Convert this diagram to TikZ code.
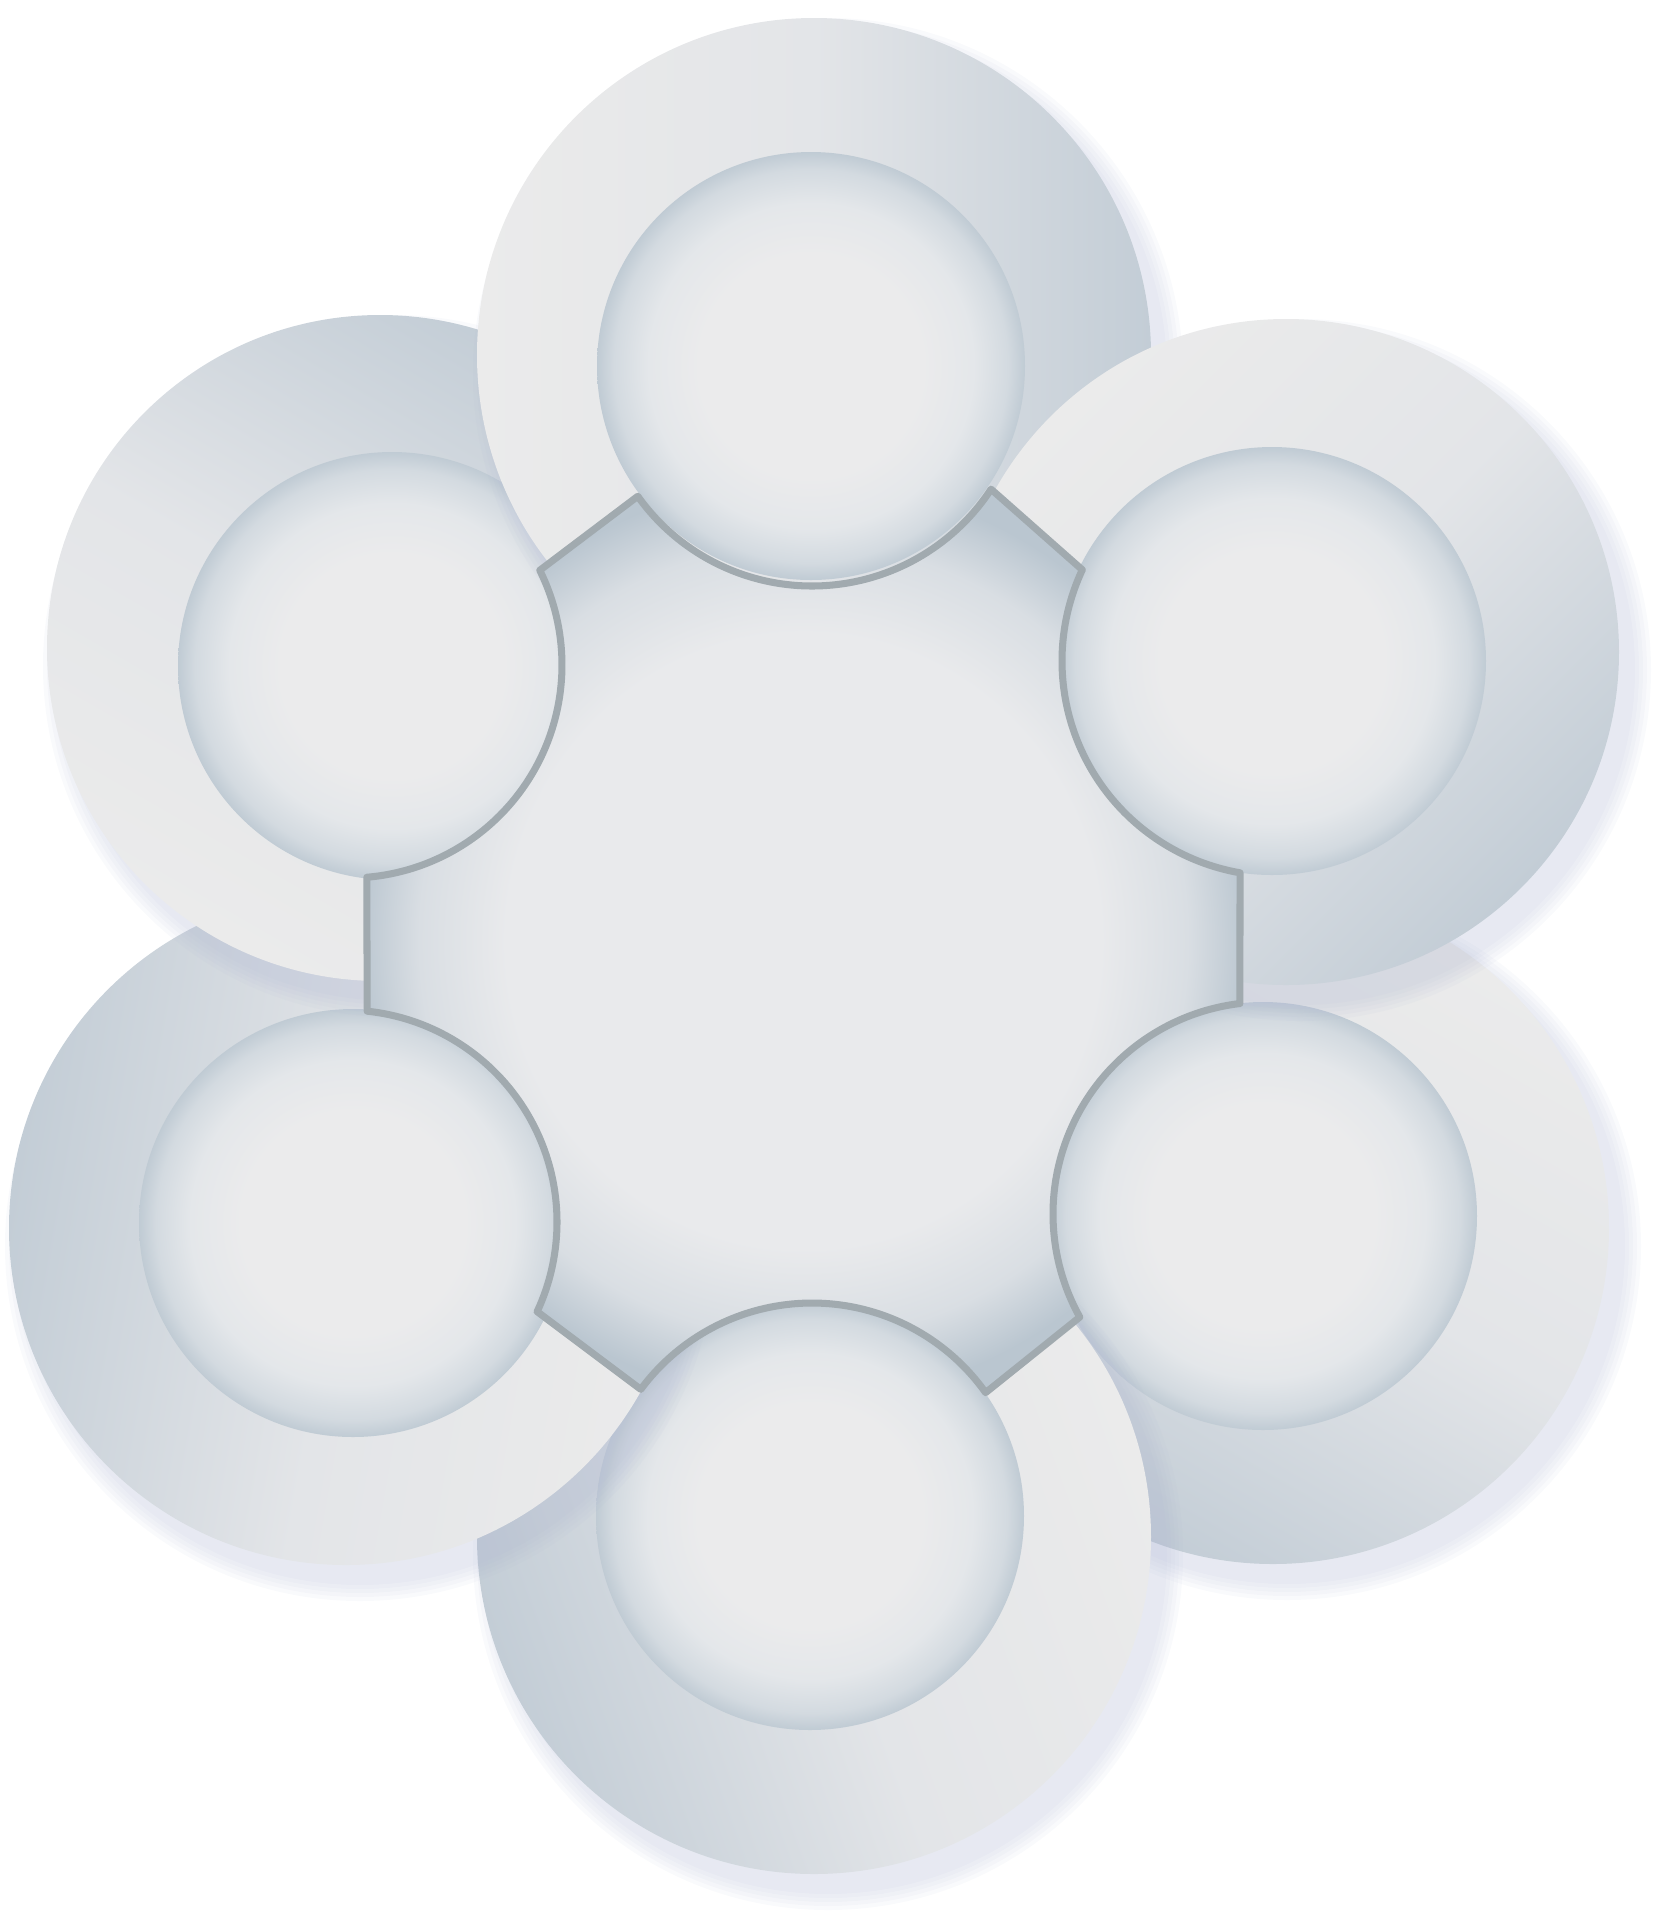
\documentclass[tikz,border=0pt]{standalone}
\usepackage{tikz}
\usetikzlibrary{calc}
\definecolor{plateLight}{HTML}{EBEBEB}
\definecolor{plateMid}{HTML}{E3E5E8}
\definecolor{plateDark}{HTML}{C3CDD6}
\definecolor{wellLight}{HTML}{EBEBEC}
\definecolor{wellSoft}{HTML}{E4E7EA}
\definecolor{wellMid}{HTML}{D3DAE0}
\definecolor{wellDark}{HTML}{C0CBD4}
\definecolor{hexLight}{HTML}{E9EAEC}
\definecolor{hexMid}{HTML}{D9DEE3}
\definecolor{hexDark}{HTML}{BAC6D0}
\definecolor{rimGray}{HTML}{A1AAAF}
\definecolor{glowBlue}{HTML}{B0B8D4}
\pgfdeclareradialshading{wellshade}{\pgfpoint{0bp}{0bp}}{color(0bp)=(wellLight); color(13bp)=(wellLight); color(19bp)=(wellSoft); color(23bp)=(wellMid); color(25bp)=(wellDark); color(50bp)=(wellDark)}
\pgfdeclareradialshading{hexshade}{\pgfpoint{0bp}{0bp}}{color(0bp)=(hexLight); color(17bp)=(hexLight); color(22bp)=(hexMid); color(25.5bp)=(hexDark); color(50bp)=(hexDark)}
\newcommand{\plateglow}[2]{%
  \foreach \g in {2,6,...,18} {\fill[glow] ($(#1)+(14,18)$) circle[radius=#2+\g];}}
\tikzset{
    plate/.style = {top color=plateLight, bottom color=plateDark, middle color=plateMid},
    well/.style = {shading=wellshade},
    glow/.style = {fill=glowBlue, fill opacity=0.07},
    hexrim/.style = {draw=rimGray, line width=2pt, line join=round, shading=hexshade}}

\begin{document}
\begin{tikzpicture}[x=0.01cm, y=-0.01cm]
        \useasboundingbox (0,0) rectangle (1673,1920);
        \coordinate (plT) at (814,355);
        \coordinate (plUR) at (1286,652);
        \coordinate (plLR) at (1273,1228);
        \coordinate (plB) at (814,1537);
        \coordinate (plLL) at (346,1228);
        \coordinate (plUL) at (380,648);
        \coordinate (wlT) at (811,366);
        \coordinate (wlUR) at (1272,661);
        \coordinate (wlLR) at (1263,1216);
        \coordinate (wlB) at (810,1516);
        \coordinate (wlLL) at (353,1223);
        \coordinate (wlUL) at (392,666);
        \coordinate (cuT) at (812,372);
        \coordinate (cuUR) at (1277,661);
        \coordinate (cuLR) at (1265,1214);
        \coordinate (cuB) at (812,1516);
        \coordinate (cuLL) at (345,1222);
        \coordinate (cuUL) at (349,665);
        \plateglow{plLR}{336}
        \shade[plate, shading angle=-30] (plLR) circle[radius=336];
        \shade[well] (wlLR) circle[radius=214];
        \plateglow{plB}{337}
        \shade[plate, shading angle=-70] (plB) circle[radius=337];
        \shade[well] (wlB) circle[radius=214];
        \plateglow{plLL}{337}
        \shade[plate, shading angle=-100] (plLL) circle[radius=337];
        \shade[well] (wlLL) circle[radius=214];
        \plateglow{plUL}{333}
        \shade[plate, shading angle=150] (plUL) circle[radius=333];
        \shade[well] (wlUL) circle[radius=214];
        \plateglow{plT}{337}
        \shade[plate, shading angle=90] (plT) circle[radius=337];
        \shade[well] (wlT) circle[radius=214];
        \plateglow{plUR}{333}
        \shade[plate, shading angle=45] (plUR) circle[radius=333];
        \shade[well] (wlUR) circle[radius=214];
        \shadedraw[hexrim] ($(cuT)+(144.5:214)$) arc[start angle=144.5, end angle=33.2, radius=214]
            -- ($(cuUR)+(205.1:215)$) arc[start angle=205.1, end angle=99.9, radius=215]
            -- ($(cuLR)+(263.2:212)$) arc[start angle=263.2, end angle=150.9, radius=212]
            -- ($(cuB)+(324.6:213)$) arc[start angle=324.6, end angle=216.5, radius=213]
            -- ($(cuLL)+(25:212)$) arc[start angle=25, end angle=-84, radius=212]
            -- ($(cuUL)+(85.2:213)$) arc[start angle=85.2, end angle=-26.4, radius=213]
            -- cycle;
\end{tikzpicture}
\end{document}
